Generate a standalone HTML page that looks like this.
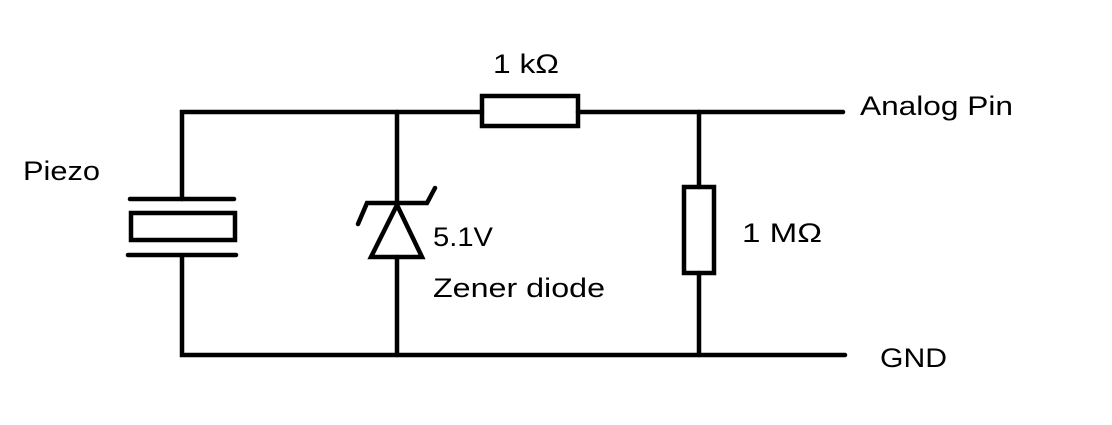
<!DOCTYPE html>
<html><head><style>
body{margin:0;background:#fff;}
svg{display:block;}
text{font-family:"Liberation Sans","DejaVu Sans",sans-serif;font-size:27px;fill:#000;}
</style></head><body>
<svg width="1112" height="425" viewBox="0 0 1112 425" xmlns="http://www.w3.org/2000/svg">
<g stroke="#000" stroke-width="4.5" fill="none" stroke-linecap="round" stroke-linejoin="miter">
<polyline points="182,199 182,112 482,112"/>
<line x1="578" y1="112" x2="843" y2="112"/>
<polyline points="182,257 182,355 845,355"/>
<line x1="130" y1="199" x2="234" y2="199"/>
<rect x="131" y="213" width="104" height="27" stroke-linecap="butt"/>
<line x1="128" y1="255" x2="236" y2="255"/>
<line x1="397" y1="112" x2="397" y2="205"/>
<polygon points="397,205 371,257 422,257"/>
<line x1="397" y1="257" x2="397" y2="355"/>
<polyline points="358,224 367,203 427,203 435,188"/>
<rect x="482" y="96" width="96" height="30"/>
<line x1="699" y1="112" x2="699" y2="187"/>
<rect x="684" y="187" width="30" height="86"/>
<line x1="699" y1="273" x2="699" y2="355"/>
</g>
<text x="493" y="73" textLength="66" lengthAdjust="spacingAndGlyphs">1 kΩ</text>
<text x="23" y="180" textLength="77" lengthAdjust="spacingAndGlyphs">Piezo</text>
<text x="433" y="246" textLength="60" lengthAdjust="spacingAndGlyphs">5.1V</text>
<text x="433" y="297" textLength="172" lengthAdjust="spacingAndGlyphs">Zener diode</text>
<text x="742" y="242" textLength="80" lengthAdjust="spacingAndGlyphs">1 MΩ</text>
<text x="860" y="115" textLength="153" lengthAdjust="spacingAndGlyphs">Analog Pin</text>
<text x="880" y="367" textLength="67" lengthAdjust="spacingAndGlyphs">GND</text>
</svg>
</body></html>
